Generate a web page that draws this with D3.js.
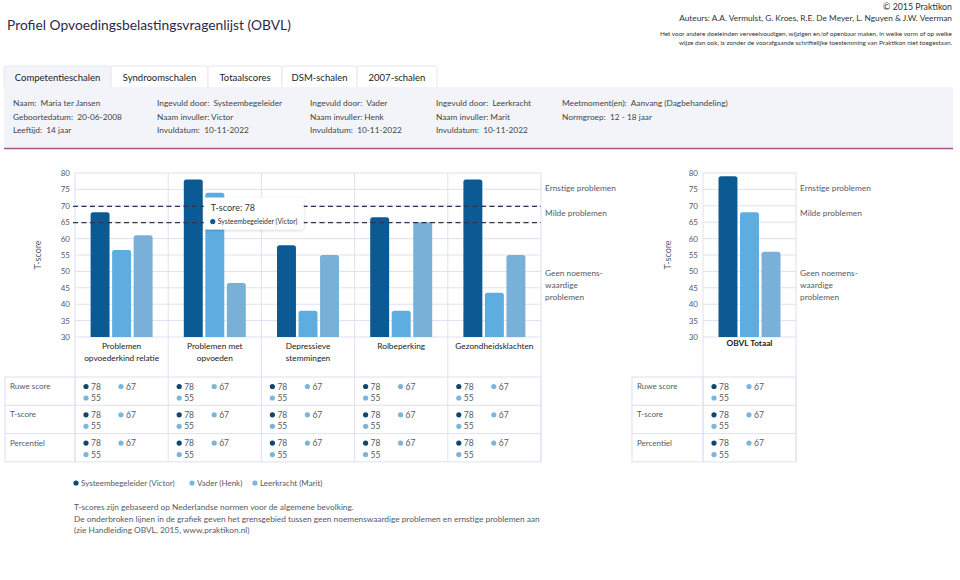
<!DOCTYPE html>
<html>
<head>
<meta charset="utf-8">
<script src="https://cdn.jsdelivr.net/npm/d3@7"></script>
<style>
  html, body { margin: 0; padding: 0; background: #fff; }
  svg { display: block; font-family: "Lato", "Inter", sans-serif; }
</style>
</head>
<body>
<svg id="chart" width="960" height="580"></svg>
<script>
// ---------- data ----------
const categories = ["Problemen opvoederkind relatie", "Problemen met opvoeden", "Depressieve stemmingen", "Rolbeperking", "Gezondheidsklachten"];
const categoryLines = [["Problemen", "opvoederkind relatie"], ["Problemen met", "opvoeden"], ["Depressieve", "stemmingen"], ["Rolbeperking"], ["Gezondheidsklachten"]];
const seriesNames = ["Systeembegeleider (Victor)", "Vader (Henk)", "Leerkracht (Marit)"];
const systeemScores = [68, 78, 58, 66.5, 78];
const vaderScores = [56.5, 74, 38, 38, 43.5];
const leerkrachtScores = [61, 46.5, 55, 65, 55];
const totaalCategory = ["OBVL Totaal"];
const totaalScores = [79, 68, 56];
const yTicks = [30, 35, 40, 45, 50, 55, 60, 65, 70, 75, 80];
const cutoffs = [70, 65];
const zoneLabels = [["Ernstige problemen"], ["Milde problemen"], ["Geen noemens-", "waardige", "problemen"]];
const zoneLabelValues = [74.5, 67, 48.6];
const tableRows = ["Ruwe score", "T-score", "Percentiel"];
const tableValues = [78, 67, 55];
const tabs = ["Competentieschalen", "Syndroomschalen", "Totaalscores", "DSM-schalen", "2007-schalen"];
const infoColumns = [
  ["Naam:  Maria ter Jansen", "Geboortedatum:  20-06-2008", "Leeftijd:  14 jaar"],
  ["Ingevuld door:  Systeembegeleider", "Naam invuller: Victor", "Invuldatum:  10-11-2022"],
  ["Ingevuld door:  Vader", "Naam invuller: Henk", "Invuldatum:  10-11-2022"],
  ["Ingevuld door:  Leerkracht", "Naam invuller: Marit", "Invuldatum:  10-11-2022"],
  ["Meetmoment(en):  Aanvang (Dagbehandeling)", "Normgroep:  12 - 18 jaar"]
];
const footnotes = [
  "T-scores zijn gebaseerd op Nederlandse normen voor de algemene bevolking.",
  "De onderbroken lijnen in de grafiek geven het grensgebied tussen geen noemenswaardige problemen en ernstige problemen aan",
  "(zie Handleiding OBVL, 2015, www.praktikon.nl)"
];
const tooltip = { category: 1, series: 0 };

// ---------- styling ----------
const colors = ["#0c5a93", "#5dade1", "#78b0d8"];
const dotColors = ["#10466f", "#7bb5dc", "#7bb5dc"];
const gridColor = "#e0e0f2";
const textGray = "#555a66";

const svg = d3.select("#chart");

// ---------- header ----------
svg.append("text").attr("x", 7).attr("y", 30).attr("font-size", 13.8).attr("fill", "#2d2a4a")
  .text("Profiel Opvoedingsbelastingsvragenlijst (OBVL)");
const hdr = svg.append("g").attr("text-anchor", "end").attr("fill", "#333");
hdr.append("text").attr("x", 952).attr("y", 10).attr("font-size", 8.8).text("© 2015 Praktikon");
hdr.append("text").attr("x", 952).attr("y", 21).attr("font-size", 8.3).text("Auteurs: A.A. Vermulst, G. Kroes, R.E. De Meyer, L. Nguyen & J.W. Veerman");
hdr.append("text").attr("x", 952).attr("y", 36).attr("font-size", 6.4).text("Het voor andere doeleinden verveelvoudigen, wijzigen en/of openbaar maken, in welke vorm of op welke");
hdr.append("text").attr("x", 952).attr("y", 45).attr("font-size", 6.4).text("wijze dan ook, is zonder de voorafgaande schriftelijke toestemming van Praktikon niet toegestaan.");

// ---------- tabs ----------
const tabEdges = [4, 111, 208, 282, 357, 437];
const tabG = svg.append("g");
tabs.forEach((t, i) => {
  const x0 = tabEdges[i], x1 = tabEdges[i + 1];
  tabG.append("path")
    .attr("d", `M${x0},88 V68 Q${x0},66 ${x0 + 2},66 H${x1 - 2} Q${x1},66 ${x1},68 V88`)
    .attr("fill", i === 0 ? "#f3f4fa" : "#fff").attr("stroke", "#e6e7f1");
  tabG.append("text").attr("x", (x0 + x1) / 2).attr("y", 80.5).attr("text-anchor", "middle")
    .attr("font-size", 9.5).attr("fill", "#222").text(t);
});
svg.append("rect").attr("x", 4).attr("y", 87).attr("width", 949).attr("height", 61).attr("fill", "#f3f4fa");
svg.append("line").attr("x1", 4).attr("x2", 953).attr("y1", 148.5).attr("y2", 148.5).attr("stroke", "#a8568c").attr("stroke-width", 1.6);
const infoX = [13, 157, 310, 436, 562];
infoColumns.forEach((col, i) => {
  col.forEach((t, j) => {
    svg.append("text").attr("x", infoX[i]).attr("y", 106 + j * 13.5).attr("font-size", 8.3).attr("fill", "#444").attr("xml:space", "preserve").text(t);
  });
});

// ---------- scales ----------
const y = d3.scaleLinear().domain([30, 80]).range([337, 173]);
const x = d3.scaleBand().domain(categories).range([75, 541]);
const bw = x.bandwidth();
const xs = d3.scaleBand().domain(seriesNames).range([bw / 2 - 31, bw / 2 + 31]).paddingInner(0.12);
const xt = d3.scaleBand().domain(totaalCategory).range([703, 796]);
const bwt = xt.bandwidth();
const xst = d3.scaleBand().domain(seriesNames).range([bwt / 2 - 31, bwt / 2 + 31]).paddingInner(0.12);

const tableTop = 377, rowH = 28.3;
const tableBottom = tableTop + rowH * tableRows.length;

function barPath(x0, w, yTop, yBot) {
  const r = Math.min(2.5, w / 2);
  return `M${x0},${yBot} V${yTop + r} Q${x0},${yTop} ${x0 + r},${yTop} H${x0 + w - r} Q${x0 + w},${yTop} ${x0 + w},${yTop + r} V${yBot} Z`;
}

function drawPanel(xScale, subScale, cats, valuesBySeries, opts) {
  const g = svg.append("g");
  const [xl, xr] = xScale.range();
  g.selectAll(".hg").data(yTicks).enter().append("line")
    .attr("x1", xl).attr("x2", xr).attr("y1", d => y(d)).attr("y2", d => y(d))
    .attr("stroke", gridColor).attr("stroke-width", 1);
  const edges = cats.map(c => xScale(c)).concat([xr]);
  g.selectAll(".vg").data(edges).enter().append("line")
    .attr("x1", d => d).attr("x2", d => d).attr("y1", y(80)).attr("y2", tableBottom)
    .attr("stroke", gridColor).attr("stroke-width", 1);
  const axis = d3.axisLeft(y).tickValues(yTicks).tickSize(0).tickPadding(5);
  const ag = g.append("g").attr("transform", `translate(${xl},0)`).call(axis);
  ag.select(".domain").remove();
  ag.selectAll("text").attr("font-size", 8).attr("fill", textGray).attr("font-family", "Lato, sans-serif");
  g.append("text").attr("transform", `translate(${opts.titleX},255) rotate(-90)`)
    .attr("text-anchor", "middle").attr("font-size", 9).attr("fill", textGray).text("T-score");
  cats.forEach((c, ci) => {
    seriesNames.forEach((s, si) => {
      const v = valuesBySeries[si][ci];
      g.append("path").attr("d", barPath(xScale(c) + subScale(s), subScale.bandwidth(), y(v), y(30)))
        .attr("fill", colors[si]);
    });
    const lines = opts.catLines[ci];
    lines.forEach((ln, li) => {
      g.append("text").attr("x", xScale(c) + xScale.bandwidth() / 2).attr("y", opts.catY + li * 12)
        .attr("text-anchor", "middle").attr("font-size", 8.3).attr("fill", "#222")
        .attr("font-weight", opts.boldCat ? 700 : 400).text(ln);
    });
  });
  zoneLabels.forEach((lines, zi) => {
    lines.forEach((ln, li) => {
      g.append("text").attr("x", xr + 4).attr("y", y(zoneLabelValues[zi]) + li * 12)
        .attr("font-size", 8.3).attr("fill", textGray).text(ln);
    });
  });
  const tl = opts.tableLeft;
  g.append("rect").attr("x", tl).attr("y", tableTop).attr("width", xr - tl).attr("height", tableBottom - tableTop)
    .attr("fill", "none").attr("stroke", gridColor);
  g.append("line").attr("x1", xl).attr("x2", xl).attr("y1", tableTop).attr("y2", tableBottom).attr("stroke", gridColor);
  tableRows.forEach((r, ri) => {
    const ry = tableTop + ri * rowH;
    if (ri > 0) g.append("line").attr("x1", tl).attr("x2", xr).attr("y1", ry).attr("y2", ry).attr("stroke", gridColor);
    g.append("text").attr("x", tl + 5).attr("y", ry + 12).attr("font-size", 8).attr("fill", textGray).text(r);
    cats.forEach(c => {
      const cx = xScale(c);
      const pos = [[cx + 11, ry + 9.5], [cx + 46, ry + 9.5], [cx + 11, ry + 21]];
      tableValues.forEach((v, vi) => {
        g.append("circle").attr("cx", pos[vi][0]).attr("cy", pos[vi][1]).attr("r", 2.6).attr("fill", dotColors[vi]);
        g.append("text").attr("x", pos[vi][0] + 5).attr("y", pos[vi][1] + 3).attr("font-size", 8.5).attr("fill", textGray).text(v);
      });
    });
  });
  return g;
}

const leftPanel = drawPanel(x, xs, categories, [systeemScores, vaderScores, leerkrachtScores],
  { titleX: 41, catLines: categoryLines, catY: 349, boldCat: false, tableLeft: 5 });
leftPanel.selectAll(".cut").data(cutoffs).enter().append("line")
  .attr("x1", 73).attr("x2", 541).attr("y1", d => y(d) + 0.5).attr("y2", d => y(d) + 0.5)
  .attr("stroke", "#2b3652").attr("stroke-width", 1.3).attr("stroke-dasharray", "5,3.5");

drawPanel(xt, xst, totaalCategory, [[totaalScores[0]], [totaalScores[1]], [totaalScores[2]]],
  { titleX: 671, catLines: [["OBVL Totaal"]], catY: 346, boldCat: true, tableLeft: 632 });

// ---------- tooltip ----------
const tc = categories[tooltip.category];
const tv = [systeemScores, vaderScores, leerkrachtScores][tooltip.series][tooltip.category];
const tx = x(tc) + xs(seriesNames[tooltip.series]) + xs.bandwidth() + 1;
const ty = y(tv) + 18;
const defs = svg.append("defs");
const f = defs.append("filter").attr("id", "sh").attr("x", "-20%").attr("y", "-30%").attr("width", "140%").attr("height", "160%");
f.append("feDropShadow").attr("dx", 0).attr("dy", 1).attr("stdDeviation", 1.5).attr("flood-color", "#000").attr("flood-opacity", 0.18);
const tg = svg.append("g").attr("transform", `translate(${tx},${ty})`);
tg.append("rect").attr("width", 100).attr("height", 32).attr("rx", 2).attr("fill", "#fff").attr("filter", "url(#sh)");
tg.append("text").attr("x", 7).attr("y", 13).attr("font-size", 9).attr("fill", "#333").text("T-score: " + tv);
tg.append("circle").attr("cx", 9).attr("cy", 24).attr("r", 2.6).attr("fill", colors[tooltip.series]);
tg.append("text").attr("x", 14).attr("y", 26.5).attr("font-size", 6.8).attr("fill", "#333").text(seriesNames[tooltip.series]);

// ---------- legend ----------
const legendX = [76, 192, 255];
seriesNames.forEach((s, i) => {
  svg.append("circle").attr("cx", legendX[i]).attr("cy", 483).attr("r", 2.6).attr("fill", dotColors[i]);
  svg.append("text").attr("x", legendX[i] + 5).attr("y", 486).attr("font-size", 8).attr("fill", textGray).text(s);
});
footnotes.forEach((t, i) => {
  svg.append("text").attr("x", 74).attr("y", 510 + i * 11.5).attr("font-size", 8.3).attr("fill", textGray).text(t);
});
</script>
</body>
</html>
